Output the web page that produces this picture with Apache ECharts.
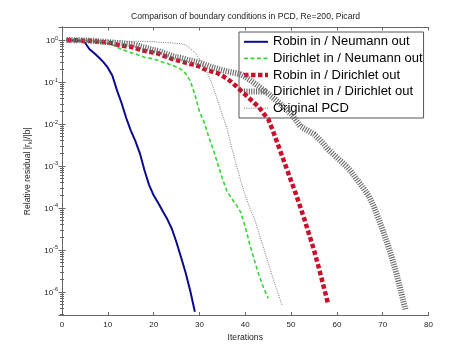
<!DOCTYPE html>
<html><head><meta charset="utf-8">
<script src="https://cdn.jsdelivr.net/npm/echarts@6/dist/echarts.min.js"></script>
<style>html,body{margin:0;padding:0;background:#fff}#c{width:474px;height:355px}</style>
</head><body><div id="c"></div>
<script>
const titleText = 'Comparison of boundary conditions in PCD, Re=200, Picard';
const xName = 'Iterations';
const seriesNames = ['Robin in / Neumann out', 'Dirichlet in / Neumann out', 'Robin in / Dirichlet out', 'Dirichlet in / Dirichlet out', 'Original PCD'];
const xTicks = [0, 10, 20, 30, 40, 50, 60, 70, 80];

const robinNeumann = [1,0.989,0.977,0.955,0.871,0.603,0.490,0.389,0.302,0.219,0.141,0.0631,0.0316,0.0141,0.00708,0.00398,0.002,7.94e-4,3.55e-4,2.0e-4,1.32e-4,8.32e-5,5.37e-5,3.16e-5,1.51e-5,6.61e-6,2.82e-6,1.05e-6,3.39e-7];
const dirichletNeumann = [1,0.989,0.977,0.966,0.955,0.933,0.912,0.891,0.871,0.832,0.776,0.676,0.603,0.550,0.501,0.468,0.427,0.389,0.372,0.355,0.324,0.295,0.275,0.251,0.229,0.200,0.158,0.107,0.0501,0.0200,0.0112,0.00501,0.00251,0.00112,5.01e-4,2.51e-4,1.70e-4,1.20e-4,7.94e-5,3.55e-5,1.35e-5,5.62e-6,2.51e-6,1.26e-6,7.08e-7];
const robinDirichlet = [1,0.993,0.986,0.977,0.966,0.955,0.933,0.912,0.891,0.871,0.832,0.776,0.741,0.708,0.692,0.646,0.589,0.550,0.525,0.501,0.479,0.427,0.398,0.355,0.331,0.309,0.288,0.269,0.257,0.234,0.204,0.186,0.174,0.162,0.141,0.120,0.1,0.0794,0.0631,0.0501,0.0398,0.0316,0.0251,0.0178,0.0132,0.00708,0.00355,0.00178,8.91e-4,4.47e-4,2.24e-4,1.07e-4,5.01e-5,2.24e-5,1e-5,3.98e-6,1.51e-6,5.62e-7];
const dirichletDirichlet = [1,0.995,0.989,0.982,0.973,0.964,0.955,0.933,0.912,0.891,0.871,0.851,0.832,0.813,0.794,0.776,0.708,0.661,0.617,0.575,0.550,0.501,0.457,0.417,0.389,0.372,0.347,0.324,0.309,0.288,0.263,0.240,0.219,0.204,0.191,0.178,0.170,0.162,0.151,0.132,0.112,0.0933,0.0776,0.0646,0.0525,0.0427,0.0347,0.0275,0.0219,0.0174,0.0126,0.00891,0.00759,0.00661,0.00575,0.00447,0.00347,0.00251,0.002,0.00158,0.00126,0.001,7.59e-4,5.37e-4,3.89e-4,2.75e-4,1.91e-4,1.12e-4,5.89e-5,3.02e-5,1.45e-5,6.61e-6,2.75e-6,1e-6,3.72e-7];
const originalPCD = [1,0.995,0.993,0.989,0.986,0.982,0.977,0.973,0.966,0.964,0.955,0.955,0.955,0.933,0.933,0.933,0.933,0.923,0.923,0.912,0.891,0.871,0.861,0.851,0.832,0.813,0.759,0.631,0.501,0.355,0.240,0.141,0.0759,0.0355,0.0166,0.00794,0.00282,0.00112,4.47e-4,2.0e-4,1e-4,5.62e-5,2.51e-5,1.12e-5,5.01e-6,2.24e-6,1.05e-6,4.9e-7];

const FONT = '"Liberation Sans", Arial, Helvetica, sans-serif';
const AX = '#666';
const styles = [
  {color: '#0b0b8c', width: 2, type: 'solid'},
  {color: '#33d633', width: 1.6, type: [4, 2.5]},
  {color: '#c8102a', width: 4.5, type: [4.5, 2.5]},
  {color: '#6a6a6a', width: 6, type: [1.1, 1.3]},
  {color: '#777777', width: 1, type: [1, 1.3]}
];
function toPairs(vals) { return vals.map((v, i) => [i + 1, v]); }
function yFmt(v) { const e = Math.round(Math.log10(v)); return '{b|10}{s|' + e + '}'; }

const chart = echarts.init(document.getElementById('c'), null, {renderer: 'canvas'});
const yCommon = {
  type: 'log', logBase: 10, min: 2.75e-7, max: 2.04, splitNumber: 7,
  axisLine: {show: true, lineStyle: {color: AX, width: 1}},
  axisTick: {show: true, inside: true, length: 3.5, lineStyle: {color: AX}},
  minorTick: {show: true, splitNumber: 9, length: 2, lineStyle: {color: AX}},
  splitLine: {show: false}
};
const xCommon = {
  type: 'value', min: 0, max: 80, interval: 10,
  axisLine: {show: true, onZero: false, lineStyle: {color: AX, width: 1}},
  axisTick: {show: true, inside: true, length: 3.5, lineStyle: {color: AX}},
  splitLine: {show: false}
};
const allData = [robinNeumann, dirichletNeumann, robinDirichlet, dirichletDirichlet, originalPCD];
chart.setOption({
  animation: false,
  backgroundColor: '#fff',
  title: {text: titleText, left: 131, top: 12, padding: 0,
    textStyle: {fontFamily: FONT, fontSize: 8.6, fontWeight: 'normal', color: '#222'}},
  grid: {left: 62, right: 45.5, top: 27, bottom: 39.5, containLabel: false},
  legend: {
    orient: 'vertical', left: 239, top: 32, itemWidth: 24, itemHeight: 14, itemGap: 3.6,
    padding: [3.3, 1, 3.3, 2], backgroundColor: '#fff', borderColor: '#555', borderWidth: 1, borderRadius: 0,
    itemStyle: {opacity: 0, borderWidth: 0},
    textStyle: {fontFamily: FONT, fontSize: 13, color: '#000'},
    data: seriesNames.map((n, i) => ({name: n, lineStyle: {color: styles[i].color, width: styles[i].width, type: styles[i].type, opacity: 1}}))
  },
  xAxis: [
    Object.assign({}, xCommon, {position: 'bottom', name: xName, nameLocation: 'middle', nameGap: 15,
      nameTextStyle: {fontFamily: FONT, fontSize: 8.6, color: '#222'},
      axisLabel: {show: true, margin: 5, fontFamily: FONT, fontSize: 8, color: '#222',
        formatter: v => String(xTicks[xTicks.indexOf(v)])}}),
    Object.assign({}, xCommon, {position: 'top', axisLabel: {show: false}})
  ],
  yAxis: [
    Object.assign({}, yCommon, {position: 'left',
      name: 'Relative residual |r{sub|k}|/|b|', nameLocation: 'middle', nameGap: 25, nameRotate: 90,
      nameTextStyle: {fontFamily: FONT, fontSize: 8.6, color: '#222',
        rich: {sub: {fontFamily: FONT, fontSize: 6, verticalAlign: 'bottom', lineHeight: 12, color: '#222'}}},
      axisLabel: {show: true, margin: 4, showMinLabel: false, showMaxLabel: false, formatter: yFmt,
        rich: {
          b: {fontFamily: FONT, fontSize: 8, color: '#222', lineHeight: 10, verticalAlign: 'bottom'},
          s: {fontFamily: FONT, fontSize: 5.5, color: '#222', lineHeight: 10, verticalAlign: 'top'}
        }}}),
    Object.assign({}, yCommon, {position: 'right', axisLabel: {show: false}})
  ],
  series: seriesNames.map((n, i) => ({
    name: n, type: 'line', data: toPairs(allData[i]), symbol: 'none', z: 2 + i,
    lineStyle: styles[i], itemStyle: {color: styles[i].color}
  }))
});
</script>
</body></html>
